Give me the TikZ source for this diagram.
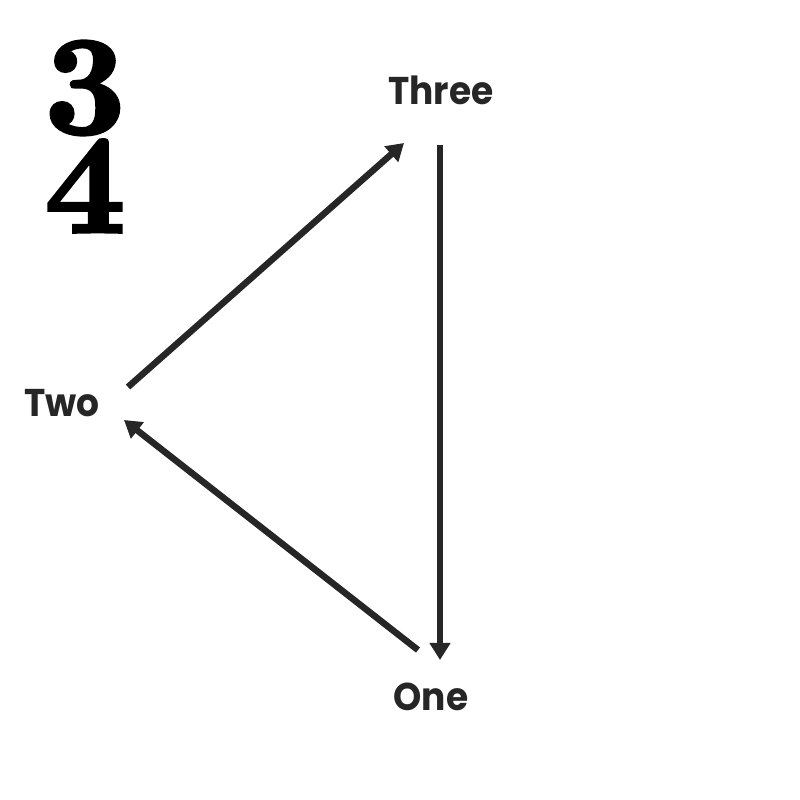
\documentclass[tikz,border=0pt]{standalone}
\usepackage{fontspec}
\setmainfont{Poppins}
\newfontfamily\popfont{Poppins Bold}[FakeStretch=0.93]
\newfontfamily\lmbx{lmroman10-bold.otf}[FakeBold=2.5]
\usetikzlibrary{arrows.meta}
\tikzset{
  lbl/.style={font=\popfont\fontsize{11}{14}\selectfont, text=black!85, inner sep=0pt},
  digit/.style={font=\lmbx\fontsize{40}{40}\selectfont, inner sep=0pt},
  conn/.style={line width=0.065cm, draw=black!85, -{Triangle[length=0.17cm,width=0.2cm]}}
}
\begin{document}
\begin{tikzpicture}[x=0.01cm,y=-0.01cm]
\useasboundingbox[fill=white] (0,0) rectangle (800,800);
\node[lbl] (three) at (441,90) {Three};
\node[lbl] (two) at (62,403) {Two};
\node[lbl] (one) at (431,697) {One};
\node[digit] (d3) at (85,88) {3};
\node[digit] (d4) at (85,186) {4};
\coordinate (a1s) at (128,387);
\coordinate (a1e) at (404,143);
\coordinate (a2s) at (440,145);
\coordinate (a2e) at (440,660);
\coordinate (a3s) at (418,650);
\coordinate (a3e) at (124,420);
\draw[conn] (a1s) -- (a1e);
\draw[conn] (a2s) -- (a2e);
\draw[conn] (a3s) -- (a3e);
\end{tikzpicture}
\end{document}
